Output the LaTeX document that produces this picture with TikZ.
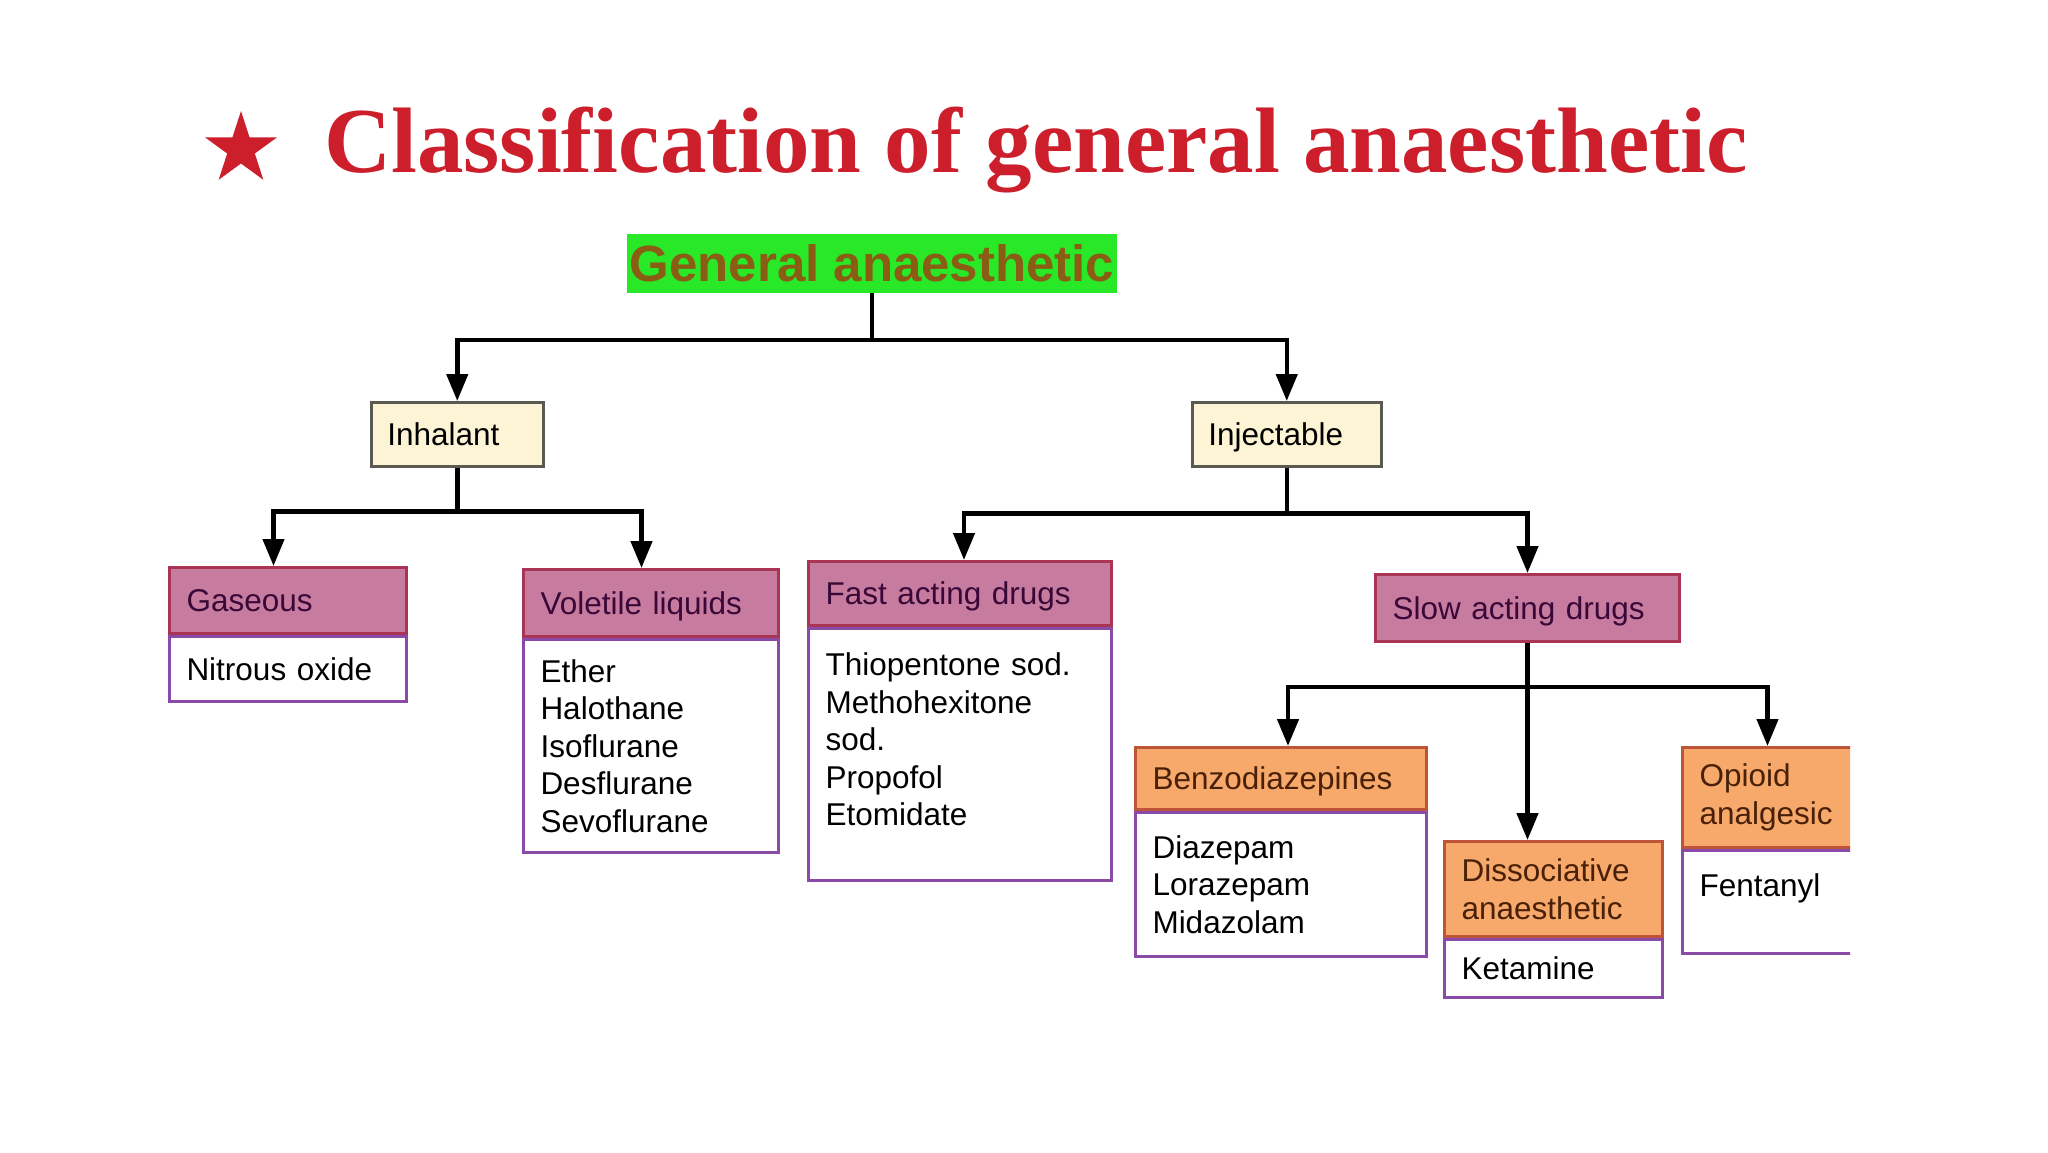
\documentclass[tikz,border=0pt]{standalone}
\usepackage{fontspec}
\setmainfont{Liberation Sans}
\newfontfamily\titlefont{Liberation Serif}
\usetikzlibrary{arrows.meta,shapes.geometric,calc}
\definecolor{titlered}{RGB}{204,30,43}
\definecolor{genfill}{RGB}{40,232,40}
\definecolor{gentext}{RGB}{138,92,20}
\definecolor{cream}{RGB}{252,244,212}
\definecolor{creamline}{RGB}{90,90,80}
\definecolor{mauve}{RGB}{199,123,159}
\definecolor{mauveline}{RGB}{170,52,84}
\definecolor{mauvetext}{RGB}{58,8,56}
\definecolor{orangefill}{RGB}{246,169,106}
\definecolor{orangeline}{RGB}{190,84,56}
\definecolor{orangetext}{RGB}{74,32,8}
\definecolor{bodyline}{RGB}{138,74,168}
\newcommand\myBody{\fontsize{31.5}{37.5}\selectfont}
\begin{document}
\begin{tikzpicture}[x=1pt,y=-1pt,
  conn/.style={line width=4.5pt,-{Triangle[length=27pt,width=21pt]}},
  oneline/.style={text height=23pt,text depth=1pt},
  catbox/.style={draw=creamline,fill=cream,line width=2.5pt,font=\myBody,align=left,
     inner xsep=16pt,inner ysep=0pt,minimum height=64pt,anchor=north west,oneline},
  hdrM/.style={draw=mauveline,fill=mauve,line width=3pt,text=mauvetext,font=\myBody,
     align=left,inner xsep=17pt,inner ysep=0pt,anchor=north west},
  hdrO/.style={draw=orangeline,fill=orangefill,line width=3pt,text=orangetext,font=\myBody,
     align=left,inner xsep=17pt,inner ysep=0pt,anchor=north west},
  body/.style={draw=bodyline,fill=white,line width=3pt,text=black,font=\myBody,
     align=left,inner xsep=17pt,inner ysep=0pt,anchor=north west}]
\fill[white] (0,0) rectangle (2048,1152);
\useasboundingbox (0,0) rectangle (2048,1152);

% title
\node[star,star points=5,star point ratio=2.618,fill=titlered,minimum size=76pt,inner sep=0pt] (star) at (241,149) {};
\node[anchor=base west,inner sep=0pt,text=titlered,font=\titlefont\bfseries\fontsize{93}{100}\selectfont] (title) at (324,172) {Classification of general anaesthetic};

% root
\node[fill=genfill,minimum width=490pt,minimum height=59pt,inner sep=0pt,text=gentext,
      font=\bfseries\fontsize{51}{55}\selectfont] (gen) at (872,263.5) {General anaesthetic};

% level 1
\node[catbox,text width=140pt] (inh) at (370,401) {Inhalant};
\node[catbox,text width=157pt] (inj) at (1191,401) {Injectable};

% Gaseous
\node[hdrM,oneline,text width=203pt,minimum height=66pt] (gasH) at (168,566) {Gaseous};
\node[body,oneline,text width=203pt,minimum height=65pt] (gasB) at (gasH.south west) {Nitrous oxide};

% Voletile liquids
\node[hdrM,oneline,text width=221pt,minimum height=67pt] (volH) at (522,568) {Voletile liquids};
\node[body,text width=221pt,minimum height=213pt] (volB) at (volH.south west) {Ether\\Halothane\\Isoflurane\\Desflurane\\Sevoflurane};

% Fast acting
\node[hdrM,oneline,text width=269pt,minimum height=64pt] (fastH) at (807,560) {Fast acting drugs};
\node[body,text width=269pt,minimum height=252pt,text depth=180pt] (fastB) at (fastH.south west) {Thiopentone sod.\\Methohexitone\\sod.\\Propofol\\Etomidate};

% Slow acting
\node[hdrM,oneline,text width=270pt,minimum height=67pt] (slow) at (1374,573) {Slow acting drugs};

% Benzodiazepines
\node[hdrO,oneline,text width=257pt,minimum height=62pt] (bzH) at (1134,746) {Benzodiazepines};
\node[body,text width=257pt,minimum height=144pt] (bzB) at (bzH.south west) {Diazepam\\Lorazepam\\Midazolam};

% Dissociative
\node[hdrO,text width=184pt,minimum height=95pt] (disH) at (1443,840) {Dissociative\\anaesthetic};
\node[body,oneline,text width=184pt,minimum height=58pt] (disB) at (disH.south west) {Ketamine};

% Opioid (cut at right edge)
\begin{scope}
\clip (0,0) rectangle (1850,1152);
\node[hdrO,text width=136pt,minimum height=100pt] (opH) at (1681,746) {Opioid\\analgesic};
\node[body,text width=136pt,minimum height=103pt,text height=23pt,text depth=35pt] (opB) at (opH.south west) {Fentanyl};
\end{scope}

% connectors
\draw[conn] (gen.south) -- ++(0,47) -| (inh.north);
\draw[conn] (gen.south) -- ++(0,47) -| (inj.north);
\draw[conn] (inh.south) -- ++(0,44) -| ([xshift=-14.5pt]gasH.north);
\draw[conn] (inh.south) -- ++(0,44) -| ([xshift=-9.5pt]volH.north);
\draw[conn] (inj.south) -- ++(0,46) -| ([xshift=4pt]fastH.north);
\draw[conn] (inj.south) -- ++(0,46) -| (slow.north);
\coordinate (sbar) at ($(slow.south)+(0,44)$);
\draw[conn] (slow.south) -- (slow.south |- disH.north);
\draw[conn] (sbar) -| ([xshift=7pt]bzH.north);
\draw[conn] (sbar) -| (opH.north);
\end{tikzpicture}
\end{document}
